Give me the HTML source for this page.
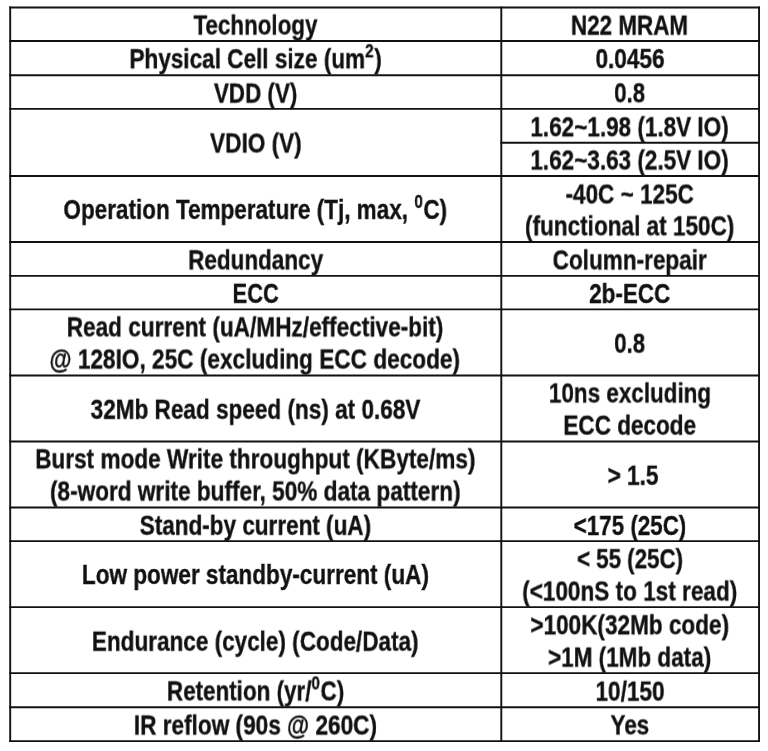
<!DOCTYPE html>
<html><head><meta charset="utf-8"><title>N22 MRAM</title>
<style>
html,body{margin:0;padding:0;background:#fff;}
body{width:768px;height:751px;position:relative;overflow:hidden;font-family:"Liberation Sans",sans-serif;}
svg{position:absolute;left:0;top:0;}
.t{position:absolute;white-space:nowrap;text-align:center;font-weight:bold;font-size:27.2px;line-height:30px;height:30px;color:#111;transform-origin:50% 50%;will-change:transform;-webkit-text-stroke:0.35px #111;}
.t sup{font-size:0.68em;line-height:0;vertical-align:baseline;position:relative;top:-0.585em;margin-right:0.8px;}
.l{left:-144.25px;width:800px;}
.r{left:230.18px;width:800px;}
</style></head><body>
<svg width="768" height="751" viewBox="0 0 768 751"><g stroke="#111" stroke-width="1.9" fill="none" stroke-linecap="square">
<line x1="10.20" y1="7.50" x2="759.06" y2="7.50"/>
<line x1="10.20" y1="41.06" x2="759.06" y2="41.06"/>
<line x1="10.20" y1="75.25" x2="759.06" y2="75.25"/>
<line x1="10.20" y1="108.90" x2="759.06" y2="108.90"/>
<line x1="10.20" y1="175.95" x2="759.06" y2="175.95"/>
<line x1="10.20" y1="242.00" x2="759.06" y2="242.00"/>
<line x1="10.20" y1="275.90" x2="759.06" y2="275.90"/>
<line x1="10.20" y1="309.40" x2="759.06" y2="309.40"/>
<line x1="10.20" y1="375.50" x2="759.06" y2="375.50"/>
<line x1="10.20" y1="441.55" x2="759.06" y2="441.55"/>
<line x1="10.20" y1="507.55" x2="759.06" y2="507.55"/>
<line x1="10.20" y1="541.15" x2="759.06" y2="541.15"/>
<line x1="10.20" y1="607.10" x2="759.06" y2="607.10"/>
<line x1="10.20" y1="673.10" x2="759.06" y2="673.10"/>
<line x1="10.20" y1="707.30" x2="759.06" y2="707.30"/>
<line x1="10.20" y1="741.10" x2="759.06" y2="741.10"/>
<line x1="501.30" y1="142.80" x2="759.06" y2="142.80"/>
<line x1="10.20" y1="7.50" x2="10.20" y2="741.10"/>
<line x1="501.30" y1="7.50" x2="501.30" y2="741.10"/>
<line x1="759.06" y1="7.50" x2="759.06" y2="741.10"/>
</g></svg>
<div class="t l" style="top:10px;transform:translate(-0.60px,0.54px) scaleX(0.8239)">Technology</div>
<div class="t l" style="top:44px;transform:translate(-0.40px,0.22px) scaleX(0.8297)">Physical Cell size (um<sup>2</sup>)</div>
<div class="t l" style="top:78px;transform:translate(-0.40px,0.61px) scaleX(0.8247)">VDD (V)</div>
<div class="t l" style="top:128px;transform:translate(-0.10px,0.48px) scaleX(0.8299)">VDIO (V)</div>
<div class="t l" style="top:194px;transform:translate(-0.70px,0.93px) scaleX(0.8271)">Operation Temperature (Tj, max, <sup>0</sup>C)</div>
<div class="t l" style="top:245px;transform:translate(-0.40px,0.33px) scaleX(0.8276)">Redundancy</div>
<div class="t l" style="top:278px;transform:translate(-0.30px,0.84px) scaleX(0.8069)">ECC</div>
<div class="t l" style="top:312px;transform:translate(-1.00px,0.43px) scaleX(0.8311)">Read current (uA/MHz/effective-bit)</div>
<div class="t l" style="top:344px;transform:translate(-1.25px,0.51px) scaleX(0.8322)">@ 128IO, 25C (excluding ECC decode)</div>
<div class="t l" style="top:394px;transform:translate(-0.50px,0.77px) scaleX(0.8297)">32Mb Read speed (ns) at 0.68V</div>
<div class="t l" style="top:444px;transform:translate(-0.75px,0.36px) scaleX(0.8313)">Burst mode Write throughput (KByte/ms)</div>
<div class="t l" style="top:476px;transform:translate(-0.75px,0.56px) scaleX(0.8312)">(8-word write buffer, 50% data pattern)</div>
<div class="t l" style="top:510px;transform:translate(-0.60px,0.78px) scaleX(0.8277)">Stand-by current (uA)</div>
<div class="t l" style="top:559px;transform:translate(-0.60px,0.98px) scaleX(0.8292)">Low power standby-current (uA)</div>
<div class="t l" style="top:626px;transform:translate(-0.75px,0.69px) scaleX(0.8284)">Endurance (cycle) (Code/Data)</div>
<div class="t l" style="top:676px;transform:translate(-0.45px,0.43px) scaleX(0.8246)">Retention (yr/<sup>0</sup>C)</div>
<div class="t l" style="top:710px;transform:translate(-0.60px,0.56px) scaleX(0.8313)">IR reflow (90s @ 260C)</div>
<div class="t r" style="top:10px;transform:translate(-0.50px,0.63px) scaleX(0.8250)">N22 MRAM</div>
<div class="t r" style="top:44px;transform:translate(0.00px,0.09px) scaleX(0.8322)">0.0456</div>
<div class="t r" style="top:78px;transform:translate(-0.30px,0.29px) scaleX(0.8156)">0.8</div>
<div class="t r" style="top:112px;transform:translate(-0.50px,0.30px) scaleX(0.8280)">1.62~1.98 (1.8V IO)</div>
<div class="t r" style="top:145px;transform:translate(-0.50px,0.50px) scaleX(0.8280)">1.62~3.63 (2.5V IO)</div>
<div class="t r" style="top:179px;transform:translate(-0.30px,0.54px) scaleX(0.8283)">-40C ~ 125C</div>
<div class="t r" style="top:211px;transform:translate(-0.30px,0.35px) scaleX(0.8298)">(functional at 150C)</div>
<div class="t r" style="top:245px;transform:translate(-0.30px,0.40px) scaleX(0.8289)">Column-repair</div>
<div class="t r" style="top:279px;transform:translate(-0.30px,0.04px) scaleX(0.8260)">2b-ECC</div>
<div class="t r" style="top:328px;transform:translate(-0.30px,0.75px) scaleX(0.8156)">0.8</div>
<div class="t r" style="top:378px;transform:translate(0.00px,0.47px) scaleX(0.8257)">10ns excluding</div>
<div class="t r" style="top:410px;transform:translate(-0.30px,0.67px) scaleX(0.8284)">ECC decode</div>
<div class="t r" style="top:460px;transform:translate(3.00px,0.78px) scaleX(0.8322)">&gt; 1.5</div>
<div class="t r" style="top:510px;transform:translate(0.00px,0.98px) scaleX(0.8229)">&lt;175 (25C)</div>
<div class="t r" style="top:544px;transform:translate(0.00px,0.22px) scaleX(0.8204)">&lt; 55 (25C)</div>
<div class="t r" style="top:576px;transform:translate(-0.30px,0.52px) scaleX(0.8299)">(&lt;100nS to 1st read)</div>
<div class="t r" style="top:610px;transform:translate(-0.30px,0.27px) scaleX(0.8297)">&gt;100K(32Mb code)</div>
<div class="t r" style="top:642px;transform:translate(-0.40px,0.60px) scaleX(0.8276)">&gt;1M (1Mb data)</div>
<div class="t r" style="top:676px;transform:translate(0.00px,0.63px) scaleX(0.8322)">10/150</div>
<div class="t r" style="top:710px;transform:translate(-0.15px,0.43px) scaleX(0.8256)">Yes</div>
</body></html>
